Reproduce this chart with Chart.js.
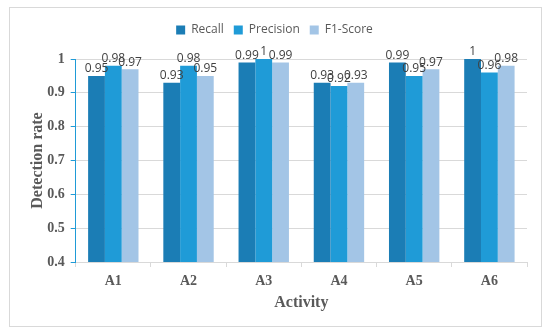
<!DOCTYPE html>
<html lang="en">
<head>
  <meta charset="UTF-8">
  <title>Detection rate</title>
  <script src="https://cdn.jsdelivr.net/npm/chart.js"></script>
</head>
<style>
  body { margin: 0; background: #fff; }
  #caja {
    position: absolute; left: 9px; top: 7px;
    width: 531px; height: 318px;
    border: 1px solid #d9d9d9;
  }
</style>
<body>
  <div id="caja"><canvas id="grafico"></canvas></div>
</body>
<script>
  const actividades = ['A1', 'A2', 'A3', 'A4', 'A5', 'A6'];
  const recall = [0.95, 0.93, 0.99, 0.93, 0.99, 1];
  const precision = [0.98, 0.98, 1, 0.92, 0.95, 0.96];
  const f1Score = [0.97, 0.95, 0.99, 0.93, 0.97, 0.98];
  const marcasY = [0.4, 0.5, 0.6, 0.7, 0.8, 0.9, 1];

  // etiquetas encima de cada barra
  const etiquetas = {
    id: 'etiquetas',
    afterDatasetsDraw(chart) {
      const ctx = chart.ctx;
      ctx.save();
      ctx.font = '12px "Open Sans", sans-serif';
      ctx.fillStyle = '#404040';
      ctx.textAlign = 'center';
      ctx.textBaseline = 'bottom';
      chart.data.datasets.forEach((ds, i) => {
        chart.getDatasetMeta(i).data.forEach((bar, j) => {
          ctx.fillText(String(ds.data[j]), bar.x, bar.y - 1);
        });
      });
      ctx.restore();
    }
  };

  // mas espacio bajo la leyenda
  const espacioLeyenda = {
    id: 'espacioLeyenda',
    beforeInit(chart) {
      const fitOriginal = chart.legend.fit;
      chart.legend.fit = function () {
        fitOriginal.bind(chart.legend)();
        this.height += 13;
      };
    }
  };

  const ctx = document.getElementById('grafico').getContext('2d');
  const chart = new Chart(ctx, {
    type: 'bar',
    data: {
      labels: actividades,
      datasets: [
        { label: 'Recall', data: recall, backgroundColor: '#1b7db5' },
        { label: 'Precision', data: precision, backgroundColor: '#1f9bd7' },
        { label: 'F1-Score', data: f1Score, backgroundColor: '#a3c5e6' }
      ]
    },
    options: {
      responsive: true,
      maintainAspectRatio: false,
      animation: false,
      layout: { padding: { left: 12, right: 14, top: 6, bottom: 3 } },
      datasets: { bar: { categoryPercentage: 0.67, barPercentage: 1 } },
      plugins: {
        tooltip: { enabled: false },
        legend: {
          position: 'top',
          labels: {
            boxWidth: 9, boxHeight: 9, padding: 10,
            color: '#595959',
            font: { family: '"Open Sans", sans-serif', size: 12 }
          }
        }
      },
      scales: {
        x: {
          grid: { display: true, drawOnChartArea: false, offset: true, color: '#d9d9d9', tickLength: 5 },
          border: { color: '#d9d9d9' },
          ticks: { color: '#595959', font: { family: '"Liberation Serif", serif', size: 14, weight: 'bold' }, padding: 6 },
          title: { display: true, text: 'Activity', color: '#595959', font: { family: '"Liberation Serif", serif', size: 16, weight: 'bold' }, padding: { top: -3, bottom: 11 } }
        },
        y: {
          min: 0.4, max: 1,
          afterBuildTicks: (axis) => { axis.ticks = marcasY.map(v => ({ value: v })); },
          grid: { color: '#d9d9d9', tickLength: 5, tickColor: '#1f9bd7' },
          border: { color: '#1f9bd7' },
          ticks: {
            color: '#595959', font: { family: '"Liberation Serif", serif', size: 14, weight: 'bold' }, padding: 6,
            callback: (v) => String(Math.round(v * 10) / 10)
          },
          title: { display: true, text: 'Detection rate', color: '#595959', font: { family: '"Liberation Serif", serif', size: 16, weight: 'bold' }, padding: { top: 6, bottom: -6 } }
        }
      }
    },
    plugins: [etiquetas, espacioLeyenda]
  });
</script>
</html>
